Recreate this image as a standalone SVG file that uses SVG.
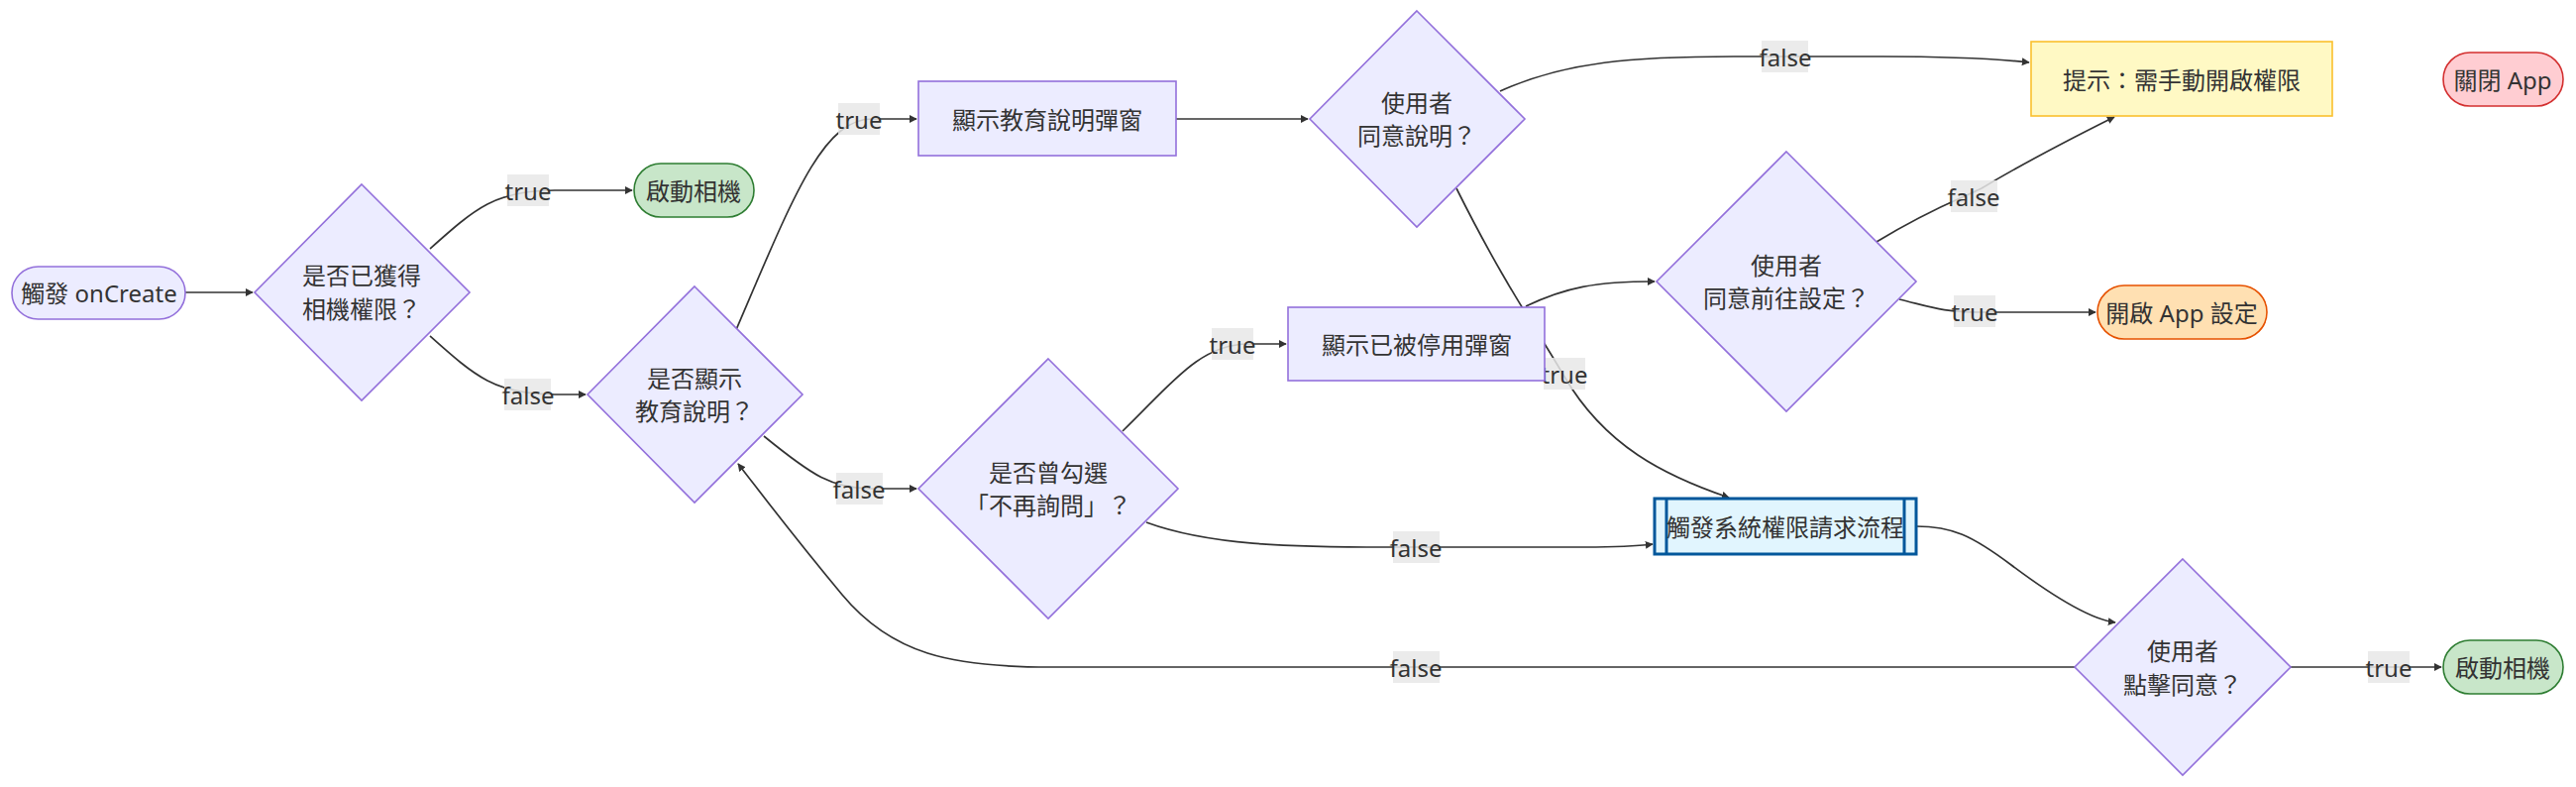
<svg xmlns="http://www.w3.org/2000/svg" width="2600" height="794" viewBox="0 0 2600 794">
<style>
text{font-family:"Noto Sans","Noto Sans CJK TC",sans-serif;font-size:24px;fill:#333;text-anchor:middle;dominant-baseline:central}
.n{fill:#ECECFF;stroke:#9370DB;stroke-width:1.6}
.g{fill:#C8E6C9;stroke:#2E7D32;stroke-width:1.6}
.r{fill:#FFCDD2;stroke:#D32F2F;stroke-width:1.6}
.y{fill:#FFF9C4;stroke:#FBC02D;stroke-width:1.6}
.o{fill:#FFE0B2;stroke:#E65100;stroke-width:1.6}
.b{fill:#E1F5FE;stroke:#01579B;stroke-width:3}
.e path{fill:none;stroke:#333;stroke-width:1.7;marker-end:url(#a)}
.lb{fill:rgba(232,232,232,0.85)}
</style>
<defs><marker id="a" viewBox="0 0 10 10" refX="9" refY="5" markerWidth="8" markerHeight="8" orient="auto" markerUnits="userSpaceOnUse" ><path d="M0,0L10,5L0,10z" fill="#333"/></marker></defs>
<g class="e">
<path d="M187,295 L255,295"/>
<path d="M434,251 C480,210 500,192 560,192 L638,192"/>
<path d="M434,339 C480,380 500,398 560,398 L591,398"/>
<path d="M742,335 C800,200 830,120 880,120 L925,120"/>
<path d="M771,440 C820,480 840,493 880,493 L925,493"/>
<path d="M1187,120 L1320,120"/>
<path d="M1514,92 C1580,62 1650,57 1750,57 L1900,57 C1980,57 2020,60 2048,63"/>
<path d="M1470,190 C1520,290 1550,330 1579,380 C1620,450 1680,480 1745,502"/>
<path d="M1540,309 C1580,290 1610,284 1670,284"/>
<path d="M1133,435 C1180,390 1210,347 1260,347 L1298,347"/>
<path d="M1157,527 C1220,550 1300,552 1400,552 L1600,552 C1640,552 1660,550 1668,549"/>
<path d="M1894,244 C1950,210 1980,200 2000,190 C2050,160 2100,135 2134,118"/>
<path d="M1917,302 C1950,310 1960,315 2000,315 L2115,315"/>
<path d="M1934,531 C1970,531 1990,540 2030,570 C2070,600 2110,625 2135,628"/>
<path d="M2312,673 L2464,673"/>
<path d="M2094,673 L1060,673 C960,673 900,660 850,600 C800,540 770,500 745,468"/>
</g>
<g id="lbl">
<rect class="lb" x="512" y="176" width="42" height="32"/><text x="533" y="192">true</text>
<rect class="lb" x="509" y="382" width="47" height="32"/><text x="533" y="398">false</text>
<rect class="lb" x="846" y="104" width="42" height="32"/><text x="867" y="120">true</text>
<rect class="lb" x="844" y="477" width="47" height="32"/><text x="867" y="493">false</text>
<rect class="lb" x="1778" y="41" width="47" height="32"/><text x="1802" y="57">false</text>
<rect class="lb" x="1558" y="361" width="42" height="32"/><text x="1579" y="377">true</text>
<rect class="lb" x="1223" y="331" width="42" height="32"/><text x="1244" y="347">true</text>
<rect class="lb" x="1406" y="536" width="47" height="32"/><text x="1429" y="552">false</text>
<rect class="lb" x="1969" y="182" width="47" height="32"/><text x="1992" y="198">false</text>
<rect class="lb" x="1972" y="298" width="42" height="32"/><text x="1993" y="314">true</text>
<rect class="lb" x="2390" y="657" width="42" height="32"/><text x="2411" y="673">true</text>
<rect class="lb" x="1406" y="657" width="47" height="32"/><text x="1429" y="673">false</text>
</g>
<g id="start"><rect class="n" x="12" y="269" width="175" height="53" rx="26.5"/><text x="100" y="295">觸發 onCreate</text></g>
<g id="d1"><polygon class="n" points="365,186 474,295 365,404 257,295"/><text x="365" y="277">是否已獲得</text><text x="365" y="311">相機權限？</text></g>
<g id="cam1"><rect class="g" x="640" y="165" width="121" height="54" rx="27"/><text x="700" y="192">啟動相機</text></g>
<g id="d2"><polygon class="n" points="701,289 810,398 701,507 593,398"/><text x="701" y="381">是否顯示</text><text x="701" y="414">教育說明？</text></g>
<g id="edu"><rect class="n" x="927" y="82" width="260" height="75"/><text x="1057" y="120">顯示教育說明彈窗</text></g>
<g id="d3"><polygon class="n" points="1058,362 1189,493 1058,624 927,493"/><text x="1058" y="476">是否曾勾選</text><text x="1058" y="509">「不再詢問」？</text></g>
<g id="d4"><polygon class="n" points="1430,11 1539,120 1430,229 1322,120"/><text x="1430" y="103">使用者</text><text x="1430" y="136">同意說明？</text></g>
<g id="hint"><rect class="y" x="2050" y="42" width="304" height="75"/><text x="2202" y="80">提示：需手動開啟權限</text></g>
<g id="close"><rect class="r" x="2466" y="53" width="121" height="54" rx="27"/><text x="2526" y="80">關閉 App</text></g>
<g id="dis"><rect class="n" x="1300" y="310" width="259" height="74"/><text x="1430" y="347">顯示已被停用彈窗</text></g>
<g id="d5"><polygon class="n" points="1803,153 1934,284 1803,415 1672,284"/><text x="1803" y="267">使用者</text><text x="1803" y="300">同意前往設定？</text></g>
<g id="set"><rect class="o" x="2117" y="288" width="171" height="54" rx="27"/><text x="2202" y="315">開啟 App 設定</text></g>
<g id="req"><rect class="b" x="1670" y="503" width="264" height="56"/><line x1="1682" y1="503" x2="1682" y2="559" stroke="#01579B" stroke-width="3"/><line x1="1922" y1="503" x2="1922" y2="559" stroke="#01579B" stroke-width="3"/><text x="1802" y="531">觸發系統權限請求流程</text></g>
<g id="d6"><polygon class="n" points="2203,564 2312,673 2203,782 2094,673"/><text x="2203" y="656">使用者</text><text x="2203" y="690">點擊同意？</text></g>
<g id="cam2"><rect class="g" x="2466" y="646" width="121" height="54" rx="27"/><text x="2526" y="673">啟動相機</text></g>
</svg>
